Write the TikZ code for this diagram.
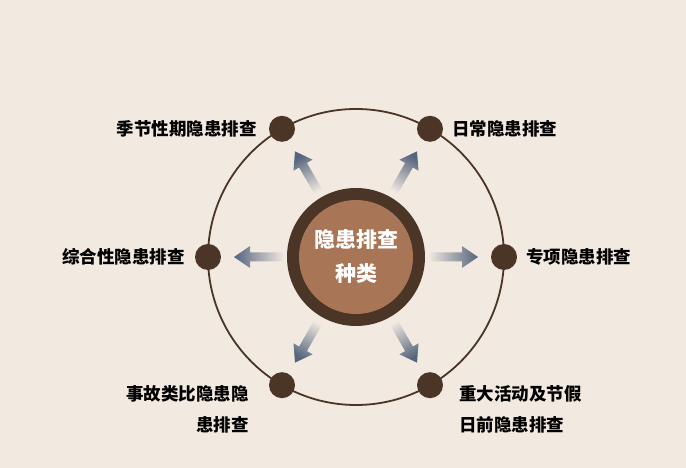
\documentclass[tikz,border=0pt]{standalone}
\usepackage{fontspec}
\usetikzlibrary{calc}
\newfontfamily\cjk{Noto Sans CJK SC}
\definecolor{bg}{HTML}{F2E9E1}
\definecolor{dk}{HTML}{4A3527}
\definecolor{mid}{HTML}{A87657}
\definecolor{ar}{HTML}{55657D}
\begin{document}
\begin{tikzpicture}[x=1pt,y=1pt,
  dot/.style={circle,fill=dk,minimum size=26pt,inner sep=0pt},
  lab/.style={font=\cjk\bfseries\fontsize{17.5}{31}\selectfont,text=black,inner sep=0pt}]
\fill[bg] (0,0) rectangle (686,468);
\useasboundingbox (0,0) rectangle (686,468);
\coordinate (c) at (356,211);
\draw[dk,line width=1.8pt] (c) circle (148);
\foreach \a in {0,60,120,180,240,300}{
  \begin{scope}[shift={(c)},rotate=\a]
  \shade[top color=bg, bottom color=ar, shading angle=\a+90]
    (72,-4.5) -- (106,-4.5) -- (106,-11) -- (122,0) -- (106,11) -- (106,4.5) -- (72,4.5) -- cycle;
  \end{scope}}
\node[circle,fill=dk,minimum size=138pt,inner sep=0pt] (ring) at (c) {};
\node[circle,fill=mid,minimum size=114pt,inner sep=0pt,align=center,text=white,
  font=\cjk\bfseries\fontsize{21}{34}\selectfont] (core) at (c) {隐患排查\\种类};
\node[dot] (d1) at ($(c)+(60:148)$) {};
\node[dot] (d2) at ($(c)+(0:148)$) {};
\node[dot] (d3) at ($(c)+(300:148)$) {};
\node[dot] (d4) at ($(c)+(240:148)$) {};
\node[dot] (d5) at ($(c)+(180:148)$) {};
\node[dot] (d6) at ($(c)+(120:148)$) {};
\node[lab,anchor=west] at ([xshift=9pt]d1.east) {日常隐患排查};
\node[lab,anchor=west] at ([xshift=9pt]d2.east) {专项隐患排查};
\node[lab,anchor=north west,align=left] at (459,83) {重大活动及节假\\日前隐患排查};
\node[lab,anchor=north east,align=right] at (249,83) {事故类比隐患隐\\患排查};
\node[lab,anchor=east] at ([xshift=-10pt]d5.west) {综合性隐患排查};
\node[lab,anchor=east] at ([xshift=-12pt]d6.west) {季节性期隐患排查};
\end{tikzpicture}
\end{document}
